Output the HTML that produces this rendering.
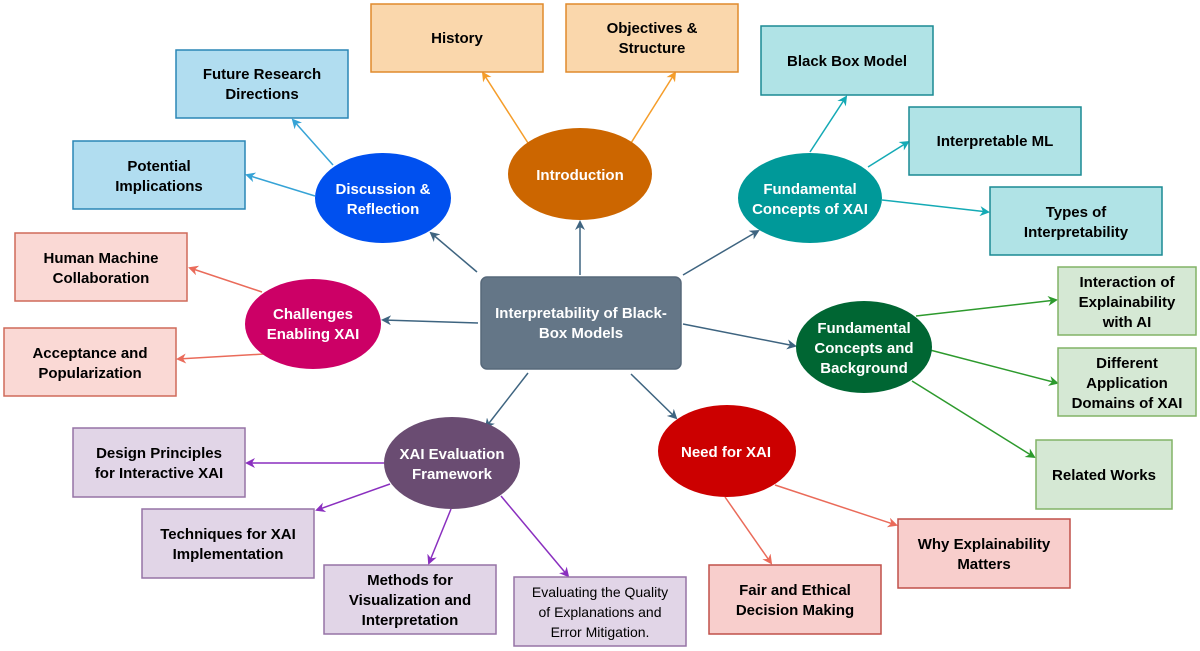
<!DOCTYPE html>
<html><head><meta charset="utf-8"><style>
html,body{margin:0;padding:0;background:#fff;}
svg{display:block;}
text{font-family:"Liberation Sans",Arial,sans-serif;font-size:15px;font-weight:bold;text-anchor:middle;}
.w{fill:#fff;}
</style></head><body>
<svg width="1200" height="651" viewBox="0 0 1200 651" xmlns="http://www.w3.org/2000/svg">
<defs>
<marker id="aB" markerWidth="10" markerHeight="10" refX="8" refY="5" orient="auto" markerUnits="userSpaceOnUse"><path d="M0,0 L10,5 L0,10 L3,5z" fill="#3e6480"/></marker>
<marker id="aO" markerWidth="10" markerHeight="10" refX="8" refY="5" orient="auto" markerUnits="userSpaceOnUse"><path d="M0,0 L10,5 L0,10 L3,5z" fill="#f59d2a"/></marker>
<marker id="aL" markerWidth="10" markerHeight="10" refX="8" refY="5" orient="auto" markerUnits="userSpaceOnUse"><path d="M0,0 L10,5 L0,10 L3,5z" fill="#36a3d6"/></marker>
<marker id="aR" markerWidth="10" markerHeight="10" refX="8" refY="5" orient="auto" markerUnits="userSpaceOnUse"><path d="M0,0 L10,5 L0,10 L3,5z" fill="#ea6b5a"/></marker>
<marker id="aT" markerWidth="10" markerHeight="10" refX="8" refY="5" orient="auto" markerUnits="userSpaceOnUse"><path d="M0,0 L10,5 L0,10 L3,5z" fill="#14aab5"/></marker>
<marker id="aG" markerWidth="10" markerHeight="10" refX="8" refY="5" orient="auto" markerUnits="userSpaceOnUse"><path d="M0,0 L10,5 L0,10 L3,5z" fill="#2d9a2d"/></marker>
<marker id="aP" markerWidth="10" markerHeight="10" refX="8" refY="5" orient="auto" markerUnits="userSpaceOnUse"><path d="M0,0 L10,5 L0,10 L3,5z" fill="#8a2fbf"/></marker>
</defs>

<g stroke-width="1.5" fill="none">
<g stroke="#3e6480" marker-end="url(#aB)">
<line x1="580" y1="275" x2="580" y2="222"/>
<line x1="477" y1="272" x2="431" y2="233"/>
<line x1="683" y1="275" x2="758" y2="231"/>
<line x1="478" y1="323" x2="383" y2="320"/>
<line x1="683" y1="324" x2="795" y2="346"/>
<line x1="528" y1="373" x2="486" y2="427"/>
<line x1="631" y1="374" x2="676" y2="418"/>
</g>
<g stroke="#f59d2a" marker-end="url(#aO)">
<line x1="528" y1="143" x2="483" y2="73"/>
<line x1="631" y1="143" x2="675" y2="73"/>
</g>
<g stroke="#36a3d6" marker-end="url(#aL)">
<line x1="333" y1="165" x2="293" y2="120"/>
<line x1="315" y1="196" x2="247" y2="175"/>
</g>
<g stroke="#ea6b5a" marker-end="url(#aR)">
<line x1="262" y1="292" x2="190" y2="268"/>
<line x1="264" y1="354" x2="178" y2="359"/>
<line x1="775" y1="485" x2="896" y2="525"/>
<line x1="725" y1="497" x2="771" y2="563"/>
</g>
<g stroke="#14aab5" marker-end="url(#aT)">
<line x1="810" y1="152" x2="846" y2="97"/>
<line x1="868" y1="167" x2="908" y2="142"/>
<line x1="882" y1="200" x2="988" y2="212"/>
</g>
<g stroke="#2d9a2d" marker-end="url(#aG)">
<line x1="916" y1="316" x2="1056" y2="300"/>
<line x1="930" y1="350" x2="1057" y2="383"/>
<line x1="912" y1="381" x2="1034" y2="457"/>
</g>
<g stroke="#8a2fbf" marker-end="url(#aP)">
<line x1="384" y1="463" x2="247" y2="463"/>
<line x1="390" y1="484" x2="317" y2="510"/>
<line x1="451" y1="509" x2="429" y2="563"/>
<line x1="501" y1="496" x2="568" y2="576"/>
</g>
</g>

<g stroke-width="1.5">
<rect x="371" y="4" width="172" height="68" fill="#fad7ac" stroke="#e08a2c"/>
<rect x="566" y="4" width="172" height="68" fill="#fad7ac" stroke="#e08a2c"/>
<rect x="176" y="50" width="172" height="68" fill="#b1ddf0" stroke="#2a86b5"/>
<rect x="73" y="141" width="172" height="68" fill="#b1ddf0" stroke="#2a86b5"/>
<rect x="15" y="233" width="172" height="68" fill="#fad9d5" stroke="#cf6a5a"/>
<rect x="4" y="328" width="172" height="68" fill="#fad9d5" stroke="#cf6a5a"/>
<rect x="761" y="26" width="172" height="69" fill="#b0e3e6" stroke="#1a8a94"/>
<rect x="909" y="107" width="172" height="68" fill="#b0e3e6" stroke="#1a8a94"/>
<rect x="990" y="187" width="172" height="68" fill="#b0e3e6" stroke="#1a8a94"/>
<rect x="1058" y="267" width="138" height="68" fill="#d5e8d4" stroke="#82b366"/>
<rect x="1058" y="348" width="138" height="68" fill="#d5e8d4" stroke="#82b366"/>
<rect x="1036" y="440" width="136" height="69" fill="#d5e8d4" stroke="#82b366"/>
<rect x="898" y="519" width="172" height="69" fill="#f8cecc" stroke="#c0504a"/>
<rect x="709" y="565" width="172" height="69" fill="#f8cecc" stroke="#c0504a"/>
<rect x="73" y="428" width="172" height="69" fill="#e1d5e7" stroke="#9673a6"/>
<rect x="142" y="509" width="172" height="69" fill="#e1d5e7" stroke="#9673a6"/>
<rect x="324" y="565" width="172" height="69" fill="#e1d5e7" stroke="#9673a6"/>
<rect x="514" y="577" width="172" height="69" fill="#e1d5e7" stroke="#9673a6"/>
<rect x="481" y="277" width="200" height="92" rx="6" fill="#647687" stroke="#56687a"/>
</g>

<ellipse cx="580" cy="174" rx="72" ry="46" fill="#cc6600"/>
<ellipse cx="383" cy="198" rx="68" ry="45" fill="#0050ef"/>
<ellipse cx="810" cy="198" rx="72" ry="45" fill="#009999"/>
<ellipse cx="313" cy="324" rx="68" ry="45" fill="#cc0066"/>
<ellipse cx="864" cy="347" rx="68" ry="46" fill="#006633"/>
<ellipse cx="727" cy="451" rx="69" ry="46" fill="#cc0000"/>
<ellipse cx="452" cy="463" rx="68" ry="46" fill="#6a4c72"/>

<text x="457" y="43">History</text>
<text x="652" y="33">Objectives &amp;</text><text x="652" y="53">Structure</text>
<text x="262" y="79">Future Research</text><text x="262" y="99">Directions</text>
<text x="159" y="171">Potential</text><text x="159" y="191">Implications</text>
<text x="101" y="263">Human Machine</text><text x="101" y="283">Collaboration</text>
<text x="90" y="358">Acceptance and</text><text x="90" y="378">Popularization</text>
<text x="847" y="66">Black Box Model</text>
<text x="995" y="146">Interpretable ML</text>
<text x="1076" y="217">Types of</text><text x="1076" y="237">Interpretability</text>
<text x="1127" y="287">Interaction of</text><text x="1127" y="307">Explainability</text><text x="1127" y="327">with AI</text>
<text x="1127" y="368">Different</text><text x="1127" y="388">Application</text><text x="1127" y="408">Domains of XAI</text>
<text x="1104" y="480">Related Works</text>
<text x="984" y="549">Why Explainability</text><text x="984" y="569">Matters</text>
<text x="795" y="595">Fair and Ethical</text><text x="795" y="615">Decision Making</text>
<text x="159" y="458">Design Principles</text><text x="159" y="478">for Interactive XAI</text>
<text x="228" y="539">Techniques for XAI</text><text x="228" y="559">Implementation</text>
<text x="410" y="585">Methods for</text><text x="410" y="605">Visualization and</text><text x="410" y="625">Interpretation</text>
<text x="600" y="597" style="font-weight:normal;font-size:14px">Evaluating the Quality</text>
<text x="600" y="617" style="font-weight:normal;font-size:14px">of Explanations and</text>
<text x="600" y="637" style="font-weight:normal;font-size:14px">Error Mitigation.</text>

<text class="w" x="581" y="318">Interpretability of Black-</text><text class="w" x="581" y="338">Box Models</text>
<text class="w" x="580" y="180">Introduction</text>
<text class="w" x="383" y="194">Discussion &amp;</text><text class="w" x="383" y="214">Reflection</text>
<text class="w" x="810" y="194">Fundamental</text><text class="w" x="810" y="214">Concepts of XAI</text>
<text class="w" x="313" y="319">Challenges</text><text class="w" x="313" y="339">Enabling XAI</text>
<text class="w" x="864" y="333">Fundamental</text><text class="w" x="864" y="353">Concepts and</text><text class="w" x="864" y="373">Background</text>
<text class="w" x="726" y="457">Need for XAI</text>
<text class="w" x="452" y="459">XAI Evaluation</text><text class="w" x="452" y="479">Framework</text>
</svg>
</body></html>
